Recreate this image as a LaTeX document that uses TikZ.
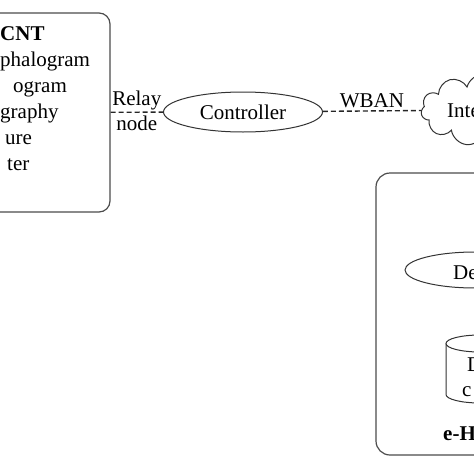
\documentclass[tikz,border=0pt]{standalone}
\usepackage{fontspec}
\setmainfont{Liberation Serif}
\usetikzlibrary{shapes.geometric, shapes.symbols}

\begin{document}
\begin{tikzpicture}[x=1pt, y=-1pt, auto,
    every node/.style={font=\fontsize{21}{26}\selectfont, inner sep=0pt},
    panel/.style={draw=black!70, line width=1.2pt, rounded corners=11pt},
    blob/.style={ellipse, draw=black!80, line width=1pt},
    link/.style={draw=black!85, line width=1.4pt, dash pattern=on 5pt off 3pt}]

    \useasboundingbox (0,0) rectangle (474,474);
    \clip (0,0) rectangle (474,474);

    % Boxes
    \node[panel, minimum width=260pt, minimum height=199pt] (patient) at (-20,112.5) {};
    \node[panel, rounded corners=14pt, minimum width=230pt, minimum height=282pt] (ehealth) at (491,314) {};

    % Sensor list
    \foreach \txt/\dx/\yy [count=\i] in {\textbf{CNT}/0/40, phalogram/0/66, ogram/13/92,
                                         graphy/0/118, ure/5/144, ter/7/170}
        \node[anchor=base west] (sens\i) at (\dx,\yy) {\txt};

    % Define states
    \node[blob, minimum width=159pt, minimum height=40pt] (ctrl) at (243,112) {Controller};
    \node[cloud, draw=black!80, line width=1pt, cloud puffs=11, minimum width=126pt, minimum height=72pt] (net) at (484,110) {};
    \node[anchor=base west] (netlbl) at (447,117) {Inte};
    \node[blob, minimum width=140pt, minimum height=36pt] (dec) at (475,270) {};
    \node[anchor=base west] (declbl) at (453,279) {De};

    % Database drum
    \draw[draw=black!80, line width=1pt] (446,343.5) -- (446,394.5)
        arc[start angle=180, end angle=0, x radius=34, y radius=8.5] -- (514,343.5);
    \draw[draw=black!80, line width=1pt] (480,343.5) ellipse[x radius=34, y radius=8.5];
    \node[anchor=base west] (dblbl1) at (467,371) {D};
    \node[anchor=base west] (dblbl2) at (462,396) {c};
    \node[anchor=base west, font=\fontsize{21}{26}\selectfont\bfseries] (ehlbl) at (443,440) {e-H};

    % Links
    \path   (patient) edge [link] node[above=1pt] {Relay} node[below=3pt] {node} (ctrl)
            (ctrl)    edge [link] node[above=2pt] {WBAN} (net);

\end{tikzpicture}
\end{document}
